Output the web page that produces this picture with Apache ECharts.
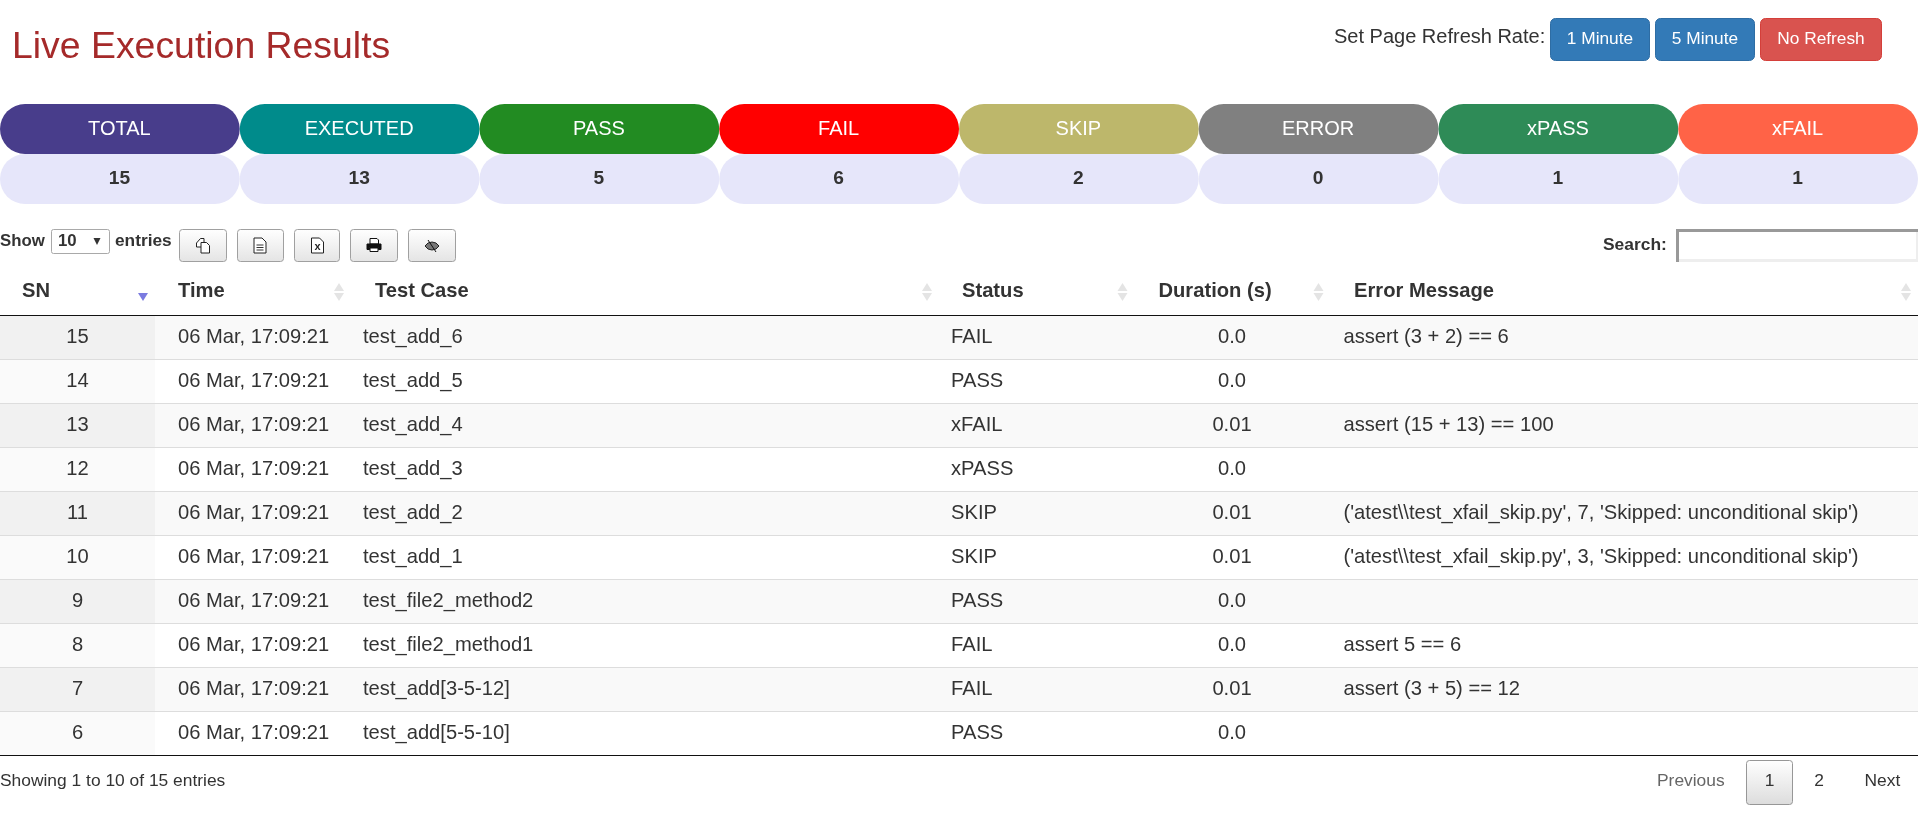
<!DOCTYPE html>
<html>
<head>
<meta charset="utf-8">
<title>Live Execution Results</title>
<style>
html, body { margin: 0; padding: 0; background: #fff; overflow: hidden; }
#main { width: 1918px; height: 828px; }
</style>
<script src="https://cdn.jsdelivr.net/npm/echarts@6/dist/echarts.min.js"></script>
</head>
<body>
<div id="main"></div>
<script>
var pageTitle = 'Live Execution Results';
var refreshLabel = 'Set Page Refresh Rate:';
var refreshButtons = ['1 Minute', '5 Minute', 'No Refresh'];

var statusNames = ['TOTAL', 'EXECUTED', 'PASS', 'FAIL', 'SKIP', 'ERROR', 'xPASS', 'xFAIL'];
var statusCounts = [15, 13, 5, 6, 2, 0, 1, 1];

var columnNames = ['SN', 'Time', 'Test Case', 'Status', 'Duration (s)', 'Error Message'];
var snValues = [15, 14, 13, 12, 11, 10, 9, 8, 7, 6];
var timeValues = ['06 Mar, 17:09:21', '06 Mar, 17:09:21', '06 Mar, 17:09:21', '06 Mar, 17:09:21', '06 Mar, 17:09:21',
    '06 Mar, 17:09:21', '06 Mar, 17:09:21', '06 Mar, 17:09:21', '06 Mar, 17:09:21', '06 Mar, 17:09:21'];
var testCases = ['test_add_6', 'test_add_5', 'test_add_4', 'test_add_3', 'test_add_2', 'test_add_1',
    'test_file2_method2', 'test_file2_method1', 'test_add[3-5-12]', 'test_add[5-5-10]'];
var statusValues = ['FAIL', 'PASS', 'xFAIL', 'xPASS', 'SKIP', 'SKIP', 'PASS', 'FAIL', 'FAIL', 'PASS'];
var durations = ['0.0', '0.0', '0.01', '0.0', '0.01', '0.01', '0.0', '0.0', '0.01', '0.0'];
var errorMessages = ['assert (3 + 2) == 6', '', 'assert (15 + 13) == 100', '',
    "('atest\\\\test_xfail_skip.py', 7, 'Skipped: unconditional skip')",
    "('atest\\\\test_xfail_skip.py', 3, 'Skipped: unconditional skip')",
    '', 'assert 5 == 6', 'assert (3 + 5) == 12', ''];

var infoText = 'Showing 1 to 10 of 15 entries';
var pageLabels = ['Previous', '1', '2', 'Next'];

// colours and layout
var FONT = '"Liberation Sans", Arial, sans-serif';
var TEXT = '#333333';
var pillColors = ['#483D8B', '#008B8B', '#228B22', '#FF0000', '#BDB76B', '#808080', '#2E8B57', '#FF6347'];
var rowCells = [
    { x: 77.5, align: 'center' },
    { x: 178, align: 'left' },
    { x: 363, align: 'left' },
    { x: 951, align: 'left' },
    { x: 1232, align: 'center' },
    { x: 1343.5, align: 'left' }
];
var headerX = [22, 178, 375, 962, 1158.5, 1354];
var sortX = [143, 339, 927, 1122.5, 1318.5, 1906];

function label(text, x, y, size, opts) {
    opts = opts || {};
    return {
        type: 'text', x: x, y: y, silent: true,
        style: {
            text: text, fill: opts.fill || TEXT,
            font: (opts.bold ? 'bold ' : '') + size + 'px ' + FONT,
            align: opts.align || 'left', verticalAlign: 'middle'
        }
    };
}

function box(x, y, w, h, r, fill, stroke) {
    return {
        type: 'rect', silent: true,
        shape: { x: x + 0.5, y: y + 0.5, width: w - 1, height: h - 1, r: r },
        style: { fill: fill, stroke: stroke, lineWidth: 1 }
    };
}

function greyFill(end) {
    return {
        type: 'linear', x: 0, y: 0, x2: 0, y2: 1,
        colorStops: [{ offset: 0, color: '#ffffff' }, { offset: 1, color: end }]
    };
}

function tri(cx, y1, y2, fill) {
    return {
        type: 'polygon', silent: true,
        shape: { points: [[cx, y1], [cx - 5, y2], [cx + 5, y2]] },
        style: { fill: fill }
    };
}

// small toolbar glyphs, drawn around (x, y)
function icon(x, y, pts, fill, stroke) {
    return {
        type: fill ? 'polygon' : 'polyline', x: x, y: y, silent: true,
        shape: { points: pts },
        style: { fill: fill || 'none', stroke: stroke, lineWidth: 1 }
    };
}

var chrome = [];
chrome.push(label(pageTitle, 12, 47.5, 37.4, { fill: '#A52A2A' }));
chrome.push(label(refreshLabel, 1334, 37.5, 20));

var refreshBoxes = [[1550, 100, '#337AB7', '#2E6DA4'], [1655, 100, '#337AB7', '#2E6DA4'], [1760, 122, '#D9534F', '#D43F3A']];
refreshButtons.forEach(function (txt, i) {
    var b = refreshBoxes[i];
    chrome.push(box(b[0], 18, b[1], 43, 5, b[2], b[3]));
    chrome.push(label(txt, b[0] + b[1] / 2, 39.5, 17.3, { fill: '#ffffff', align: 'center' }));
});

// length menu
chrome.push(label('Show', 0, 241, 16.8, { bold: true }));
chrome.push(box(51, 229, 59, 25, 2, '#ffffff', '#A9A9A9'));
chrome.push(label('10', 58, 241, 16.8, { bold: true }));
chrome.push({ type: 'polygon', silent: true, shape: { points: [[93.5, 238], [100.5, 238], [97, 245]] }, style: { fill: '#333333' } });
chrome.push(label('entries', 115, 241, 17.3, { bold: true }));

// export buttons
[[179, 48], [237, 47], [294, 46], [350, 48], [408, 48]].forEach(function (b) {
    chrome.push(box(b[0], 229, b[1], 33, 3, greyFill('#E4E4E4'), '#A0A0A0'));
});
var pageShape = [[-6, -7.5], [2, -7.5], [6, -3.5], [6, 7.5], [-6, 7.5]];
chrome.push(icon(203, 246, [[-6.5, 1], [-6.5, -3], [-2.5, -7.5], [1, -7.5], [1, 1]], '#ffffff', '#222222'));
chrome.push(icon(203, 246, [[-2, -3.5], [3.5, -3.5], [6.5, -0.5], [6.5, 7], [-2, 7]], '#ffffff', '#222222'));
chrome.push(icon(260, 245.5, pageShape, '#ffffff', '#222222'));
chrome.push(icon(260, 245.5, [[-3.5, -0.5], [3.5, -0.5]], null, '#333333'));
chrome.push(icon(260, 245.5, [[-3.5, 2], [3.5, 2]], null, '#333333'));
chrome.push(icon(260, 245.5, [[-3.5, 4.5], [3.5, 4.5]], null, '#333333'));
chrome.push(icon(317.5, 245.5, pageShape, '#ffffff', '#222222'));
chrome.push(label('x', 317.5, 247, 11, { fill: '#222222', align: 'center', bold: true }));
chrome.push(icon(374, 245, [[-4, -6.5], [3, -6.5], [4.5, -5], [4.5, -1], [-4, -1]], '#ffffff', '#111111'));
chrome.push(icon(374, 245, [[-7, -1], [7, -1], [7, 4.5], [4.5, 4.5], [4.5, 2.5], [-4.5, 2.5], [-4.5, 4.5], [-7, 4.5]], '#111111', '#111111'));
chrome.push(icon(374, 245, [[-4, 3], [4, 3], [4, 6.5], [-4, 6.5]], '#ffffff', '#111111'));
chrome.push(icon(432, 246, [[-7, 0], [-4, -3], [0, -4], [4, -3], [7, 0], [4, 3], [0, 4], [-4, 3]], '#777777', '#222222'));
chrome.push(icon(432, 246, [[-4, -6], [4, 6]], null, '#111111'));

// search box
chrome.push(label('Search:', 1603, 245, 17.4, { bold: true }));
chrome.push({ type: 'rect', silent: true, shape: { x: 1676, y: 229, width: 242, height: 33 }, style: { fill: '#EEEEEE' } });
chrome.push({ type: 'rect', silent: true, shape: { x: 1676, y: 229, width: 242, height: 3 }, style: { fill: '#999999' } });
chrome.push({ type: 'rect', silent: true, shape: { x: 1676, y: 229, width: 3, height: 33 }, style: { fill: '#999999' } });
chrome.push({ type: 'rect', silent: true, shape: { x: 1679, y: 232, width: 237, height: 27 }, style: { fill: '#ffffff' } });

// table head
columnNames.forEach(function (name, i) {
    chrome.push(label(name, headerX[i], 291, 20.16, { bold: true }));
    if (i === 0) {
        chrome.push(tri(sortX[i], 301, 293, '#7B7BE0'));
    } else {
        chrome.push(tri(sortX[i], 283, 291, '#E4E4E4'));
        chrome.push(tri(sortX[i], 301, 293, '#E4E4E4'));
    }
});

// footer
chrome.push(label(infoText, 0, 781, 17.4));
chrome.push(label(pageLabels[0], 1657, 781.5, 17.4, { fill: '#666666' }));
chrome.push(box(1746, 760, 47, 45, 3, greyFill('#DCDCDC'), '#979797'));
chrome.push(label(pageLabels[1], 1769.5, 781.5, 17.4, { align: 'center' }));
chrome.push(label(pageLabels[2], 1819, 781.5, 17.4, { align: 'center' }));
chrome.push(label(pageLabels[3], 1864.5, 781.5, 17.4));

var pillData = [];
statusNames.forEach(function (name, i) {
    pillData.push([i, 0, name]);
    pillData.push([i, 1, statusCounts[i]]);
});

var tableData = snValues.map(function (sn, i) {
    return [0, i, sn, timeValues[i], testCases[i], statusValues[i], durations[i], errorMessages[i]];
});

function renderPill(params, api) {
    var col = api.value(0);
    var row = api.value(1);
    var pt = api.coord([col, row]);
    var w = api.size([1, 0])[0];
    var h = api.size([0, 1])[1];
    var isHead = row === 0;
    return {
        type: 'group',
        children: [{
            type: 'rect',
            shape: { x: pt[0] - w / 2, y: pt[1] - h / 2, width: w, height: h, r: 25 },
            style: { fill: isHead ? pillColors[col] : '#E6E6FA' }
        }, {
            type: 'text', x: pt[0] - 0.5, y: pt[1],
            style: {
                text: String(pillData[params.dataIndex][2]),
                fill: isHead ? '#ffffff' : TEXT,
                font: (isHead ? '' : 'bold ') + (isHead ? 20 : 19.2) + 'px ' + FONT,
                align: 'center', verticalAlign: 'middle'
            }
        }]
    };
}

function renderRow(params, api) {
    var i = params.dataIndex;
    var rec = tableData[i];
    var pt = api.coord([0, i]);
    var h = api.size([0, 1])[1];
    var top = pt[1] - h / 2;
    var odd = i % 2 === 0;
    var kids = [
        { type: 'rect', shape: { x: 0, y: top + 1, width: 1918, height: h - 1 }, style: { fill: odd ? '#F9F9F9' : '#FFFFFF' } },
        { type: 'rect', shape: { x: 0, y: top + 1, width: 155, height: h - 1 }, style: { fill: odd ? '#F1F1F1' : '#FAFAFA' } }
    ];
    if (i > 0) {
        kids.push({ type: 'rect', shape: { x: 0, y: top, width: 1918, height: 1 }, style: { fill: '#DDDDDD' } });
    }
    rowCells.forEach(function (cell, c) {
        var text = String(rec[c + 2]);
        if (!text) return;
        kids.push({
            type: 'text', x: api.coord([cell.x, i])[0], y: pt[1],
            style: { text: text, fill: TEXT, font: '20.16px ' + FONT, align: cell.align, verticalAlign: 'middle' }
        });
    });
    return { type: 'group', children: kids };
}

var chart = echarts.init(document.getElementById('main'));
chart.setOption({
    animation: false,
    backgroundColor: '#ffffff',
    textStyle: { fontFamily: FONT },
    grid: [
        { left: 0, top: 104, width: 1918, height: 100 },
        { left: 0, top: 315, width: 1918, height: 440 }
    ],
    xAxis: [
        { gridIndex: 0, type: 'category', data: statusNames, show: false },
        { gridIndex: 1, type: 'value', min: 0, max: 1918, show: false }
    ],
    yAxis: [
        { gridIndex: 0, type: 'category', data: ['label', 'count'], inverse: true, show: false },
        { gridIndex: 1, type: 'category', data: snValues, inverse: true, show: false }
    ],
    series: [
        { type: 'custom', xAxisIndex: 0, yAxisIndex: 0, data: pillData, renderItem: renderPill, silent: true,
            encode: { x: 0, y: 1 } },
        { type: 'custom', xAxisIndex: 1, yAxisIndex: 1, data: tableData, renderItem: renderRow, silent: true,
            encode: { x: 0, y: 1 } }
    ],
    graphic: { elements: chrome.concat([
        { type: 'rect', silent: true, z: 100, shape: { x: 0, y: 315, width: 1918, height: 1 }, style: { fill: '#111111' } },
        { type: 'rect', silent: true, z: 100, shape: { x: 0, y: 755, width: 1918, height: 1 }, style: { fill: '#111111' } }
    ]) }
});
</script>
</body>
</html>
